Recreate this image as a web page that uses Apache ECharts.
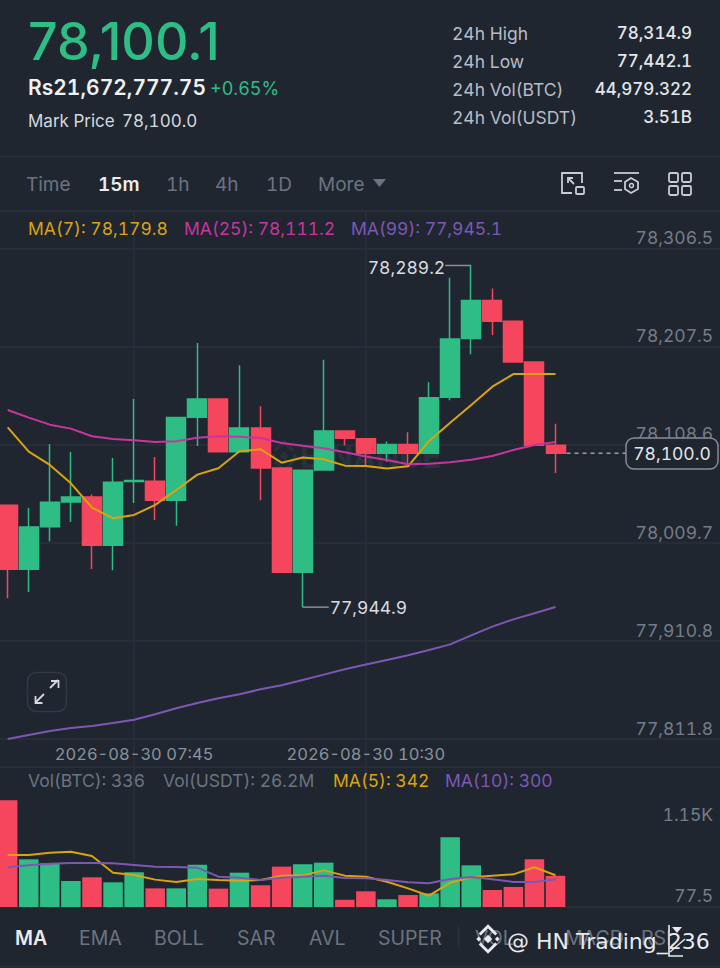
<!DOCTYPE html>
<html><head><meta charset="utf-8">
<style>html,body{margin:0;padding:0;background:#1f2630;overflow:hidden}#c{width:720px;height:968px}
svg text:not([style*="52px"]){font-variant-numeric:tabular-nums !important}</style>
<script src="https://cdn.jsdelivr.net/npm/echarts@6/dist/echarts.min.js"></script>
</head><body><div id="c"></div>
<script>
const categories = ['06:00','06:15','06:30','06:45','07:00','07:15','07:30','07:45','08:00','08:15','08:30','08:45','09:00','09:15','09:30','09:45','10:00','10:15','10:30','10:45','11:00','11:15','11:30','11:45','12:00','12:15','12:30','12:45','13:00','13:15','13:30','13:45','14:00','14:15','14:30','14:45'];
const labelledSlots = [7, 18];
const datePrefix = '2026-08-30 ';
// open, close, low, high
const candles = [
 [78047.5,77983.0,77953.8,78047.5],[77983.0,78025.7,77960.2,78044.8],[78026.0,78050.5,78011.2,78109.0],
 [78050.9,78055.9,78030.7,78101.3],[78055.9,78007.2,77983.4,78058.3],[78007.2,78070.7,77982.0,78095.2],
 [78071.4,78072.4,78049.9,78154.7],[78071.7,78052.6,78032.7,78096.2],[78052.6,78135.9,78027.0,78135.9],
 [78136.2,78154.7,78107.3,78211.1],[78154.7,78101.6,78101.6,78154.7],[78101.6,78125.5,78101.6,78188.6],
 [78125.5,78085.1,78052.6,78147.3],[78085.1,77980.0,77980.0,78085.1],[77980.0,78082.8,77944.9,78082.8],
 [78083.1,78122.4,78083.1,78194.3],[78122.4,78115.0,78107.7,78122.4],[78114.7,78099.9,78086.5,78114.7],
 [78099.9,78108.7,78091.5,78111.7],[78108.7,78099.9,78086.5,78121.1],[78099.9,78156.0,78099.9,78171.5],
 [78156.4,78215.1,78153.3,78276.9],[78215.5,78253.8,78199.7,78289.2],[78253.8,78232.9,78219.2,78265.9],
 [78232.9,78192.0,78192.0,78232.9],[78192.0,78108.0,78108.0,78192.0],[78108.0,78100.1,78080.1,78129.8]
];
const ma7 = [78126.1,78101.6,78088.2,78069.7,78045.2,78034.4,78037.8,78047.9,78063.0,78078.4,78084.8,78101.9,78104.0,78090.5,78095.6,78093.9,78087.5,78087.2,78084.5,78086.8,78112.4,78130.8,78148.6,78167.1,78179.8,78179.8,78179.8];
const ma25 = [78143.6,78135.9,78128.8,78124.8,78117.1,78114.4,78113.0,78111.3,78112.0,78115.7,78117.1,78116.7,78115.4,78110.3,78107.6,78105.0,78100.9,78096.6,78093.2,78088.8,78089.5,78090.9,78093.5,78097.2,78103.3,78108.3,78111.2];
const ma99 = [77812.1,77816.1,77820.1,77823.1,77825.2,77828.2,77831.5,77836.9,77843.0,77848.3,77853.0,77857.1,77862.1,77866.1,77871.5,77876.9,77882.3,77887.0,77891.7,77896.4,77901.7,77907.4,77916.5,77925.3,77932.6,77938.7,77945.1];
const volumes = [1150,514,471,280,320,266,374,201,201,456,198,370,234,435,460,478,77.5,169,83,129,147,751,449,183,216,514,336];
const volMa5 = [560,560,586,596,550,370,345,295,270,302,291,284,291,338,341,395,338,327,273,201,122,262,320,338,352,428,342];
const volMa10 = [428,449,467,474,474,471,453,435,431,424,327,316,291,316,327,338,313,309,291,266,255,302,323,298,269,269,300];
const priceTicks = [77811.8,77910.8,78009.7,78108.6,78207.5,78306.5];
const volTickHigh = [1150], volTickLow = [77.5];
const highPoint = {slot:23, price:78289.2}, lowPoint = {slot:15, price:77944.9}, lastPoint = {slot:27, price:78100.0};

const UP='#2ebd85', DOWN='#f6465d', BG='#1f2630', GRID='#2a313c';
const C7='#dba40e', C25='#c9359f', C99='#7e57b5';
const FONT='Inter, "Noto Sans", sans-serif';
const lead = a => ['-'].concat(a);
const volBars = volumes.map((v,i)=>({value:v,itemStyle:{color:candles[i][1]>=candles[i][0]?UP:DOWN}}));

function t(x,y,text,size,color,o){o=o||{};return {type:'text',z:o.z||50,silent:true,style:{x,y,text,fill:color,
  font:(o.w||400)+' '+size+'px '+(o.f||FONT),textAlign:o.a||'left',textVerticalAlign:'middle',opacity:o.op==null?1:o.op}};}
function ln(x1,y1,x2,y2,color,w,o){o=o||{};return {type:'line',z:o.z||50,silent:true,shape:{x1,y1,x2,y2},style:{stroke:color,lineWidth:w||1,lineDash:o.dash,opacity:o.op==null?1:o.op}};}
function rc(x,y,w,h,r,color,lw,o){o=o||{};return {type:'rect',z:o.z||50,silent:true,shape:{x,y,width:w,height:h,r},style:{stroke:color,lineWidth:lw,fill:o.fill||'none',opacity:o.op==null?1:o.op}};}
function poly(points,fill,o){o=o||{};return {type:'polygon',z:o.z||50,silent:true,shape:{points},style:{fill,opacity:o.op==null?1:o.op}};}
function pl(points,stroke,lw,o){o=o||{};return {type:'polyline',z:o.z||50,silent:true,shape:{points},style:{stroke,lineWidth:lw,fill:'none',opacity:o.op==null?1:o.op}};}
function logo(cx,cy,s,fill,o){const d=(x,y,r)=>poly([[x,y-r],[x+r,y],[x,y+r],[x-r,y]],fill,o);
  return [d(cx,cy,s*.28),d(cx-s*.62,cy,s*.16),d(cx+s*.62,cy,s*.16),
   pl([[cx-s*.55,cy-s*.3],[cx,cy-s*.85],[cx+s*.55,cy-s*.3]],fill,s*.2,o),
   pl([[cx-s*.55,cy+s*.3],[cx,cy+s*.85],[cx+s*.55,cy+s*.3]],fill,s*.2,o)];}

const LBL='#b7bdc6', VAL='#e4e6ea', DIM='#6c7480';
let decor=[
 t(28,41,'78,100.1',52,UP,{w:500}),
 t(28,87,'Rs21,672,777.75',21,'#f0f1f3',{w:600}),
 t(210,88,'+0.65%',18,UP),
 t(28,121,'Mark Price',17,'#d5d8dc'),
 t(122,121,'78,100.0',17,'#d5d8dc'),
 t(452,33,'24h High',17.5,LBL),t(452,61,'24h Low',17.5,LBL),t(452,89,'24h Vol(BTC)',17.5,LBL),t(452,117,'24h Vol(USDT)',17.5,LBL),
 t(692,33,'78,314.9',17,VAL,{a:'right',w:500}),t(692,61,'77,442.1',17,VAL,{a:'right',w:500}),
 t(692,89,'44,979.322',17,VAL,{a:'right',w:500}),t(692,117,'3.51B',17,VAL,{a:'right',w:500}),
 ln(0,156.5,720,156.5,GRID,1.5),
 t(26,184,'Time',19,DIM),t(98,184,'15m',19,'#eaecef',{w:600}),t(166,184,'1h',19,DIM),t(215,184,'4h',19,DIM),t(266,184,'1D',19,DIM),t(318,184,'More',19,DIM),
 poly([[373,179],[386,179],[379.5,187]],DIM),
 ln(0,211,720,211,GRID,1.5),
 t(28,228,'MA(7): 78,179.8',17.5,C7),t(184,228,'MA(25): 78,111.2',17.5,C25),t(351,228,'MA(99): 77,945.1',17.5,C99),
 t(28,780,'Vol(BTC): 336',17.5,DIM),t(163,780,'Vol(USDT): 26.2M',17.5,DIM),t(333,780,'MA(5): 342',17.5,C7),t(445,780,'MA(10): 300',17.5,C99),
 // toolbar icons
 pl([[582,183],[582,173],[562,173],[562,193],[572,193]],'#c8ccd2',1.8),rc(576,187,8,7,1,'#c8ccd2',1.8),
 pl([[574,184],[568,178]],'#c8ccd2',1.8),pl([[568,183],[568,178],[573,178]],'#c8ccd2',1.8),
 ln(614,173,639,173,'#c8ccd2',1.8),ln(614,181,622,181,'#c8ccd2',1.8),ln(614,190,622,190,'#c8ccd2',1.8),
 {type:'polygon',z:50,silent:true,shape:{points:[[631,178],[638,182],[638,189],[631,193],[625,189],[625,182]]},style:{stroke:'#c8ccd2',lineWidth:1.8,fill:'none'}},
 {type:'circle',z:50,silent:true,shape:{cx:631.5,cy:185.5,r:2},style:{stroke:'#c8ccd2',lineWidth:1.5,fill:'none'}},
 rc(669,173,9,9,1.5,'#c8ccd2',1.8),rc(682,173,9,9,1.5,'#c8ccd2',1.8),rc(669,186,9,9,1.5,'#c8ccd2',1.8),rc(682,186,9,9,1.5,'#c8ccd2',1.8),
 // expand button
 rc(27.5,672.5,39,39,9,'#323945',1.5,{fill:BG}),
 ln(36,702,44,694,'#d5d8dc',1.8),pl([[35.5,696],[35.5,703],[42.5,703]],'#d5d8dc',1.8),
 ln(50,688,58,680,'#d5d8dc',1.8),pl([[51,681],[58.5,681],[58.5,688]],'#d5d8dc',1.8),
 // bottom tabs
 t(15,938,'MA',19.5,'#eaecef',{w:600}),t(79,938,'EMA',19.5,DIM),t(154,938,'BOLL',19.5,DIM),t(237,938,'SAR',19.5,DIM),t(309,938,'AVL',19.5,DIM),t(378,938,'SUPER',19.5,DIM),
 ln(458.5,926,458.5,948,GRID,1.5),t(475,938,'VOL',19.5,DIM),t(565,938,'MACD',19.5,DIM),t(641,938,'RSI',19.5,DIM),
 ln(0,966.5,720,966.5,GRID,1.5),
 // chart watermark
 t(300,456,'BINANCE',31,'#2a313c',{w:700,z:1}),
].concat(logo(284,456,17,'#2a313c',{z:1}))
 // image watermark
 .concat(logo(488,939,15,'#e8eaed',{z:60}))
 .concat([
  t(507,941,'@ HN Trading_236',22,'#e8eaed',{z:60,f:'"DejaVu Sans", sans-serif'}),
  pl([[669,925],[669,956],[683,956]],'#e8eaed',1.6,{z:60}),poly([[672,927],[682,927],[677,933]],'#e8eaed',{z:60}),
  ln(670,952,685,939,'#e8eaed',1.4,{z:60}),
 ]);

const chart=echarts.init(document.getElementById('c'),null,{renderer:'svg',width:720,height:968});
const splitAt={show:true,interval:(i)=>labelledSlots.includes(i),lineStyle:{color:GRID,width:1.5}};
const lineS=(name,data,color,x,y,w)=>({name,type:'line',data:lead(data),xAxisIndex:x,yAxisIndex:y,showSymbol:false,symbol:'none',smooth:false,lineStyle:{color,width:w||2},z:5,silent:true,animation:false,connectNulls:false});
chart.setOption({
 animation:false,backgroundColor:BG,
 textStyle:{fontFamily:FONT},
 grid:[{left:-13.37,width:737.45,top:211,height:556,show:false,outerBoundsMode:'none',containLabel:false},
       {left:-13.37,width:737.45,top:767,height:140,show:false,outerBoundsMode:'none',containLabel:false}],
 xAxis:[
  {type:'category',gridIndex:0,data:categories,boundaryGap:false,axisTick:{show:false},
   axisLine:{show:true,lineStyle:{color:GRID,width:1.5}},splitLine:splitAt,
   axisLabel:{inside:true,margin:5,interval:(i)=>labelledSlots.includes(i),formatter:v=>datePrefix+v,color:'#8b929c',fontSize:16.5,fontFamily:FONT}},
  {type:'category',gridIndex:1,data:categories,boundaryGap:false,axisTick:{show:false},
   axisLine:{show:true,lineStyle:{color:GRID,width:1.5}},splitLine:splitAt,axisLabel:{show:false}}
 ],
 yAxis:[
  {type:'value',gridIndex:0,position:'right',min:77783.8,max:78344.1,scale:true,
   axisTick:{show:false,customValues:priceTicks},axisLine:{show:false},
   splitLine:{show:true,lineStyle:{color:GRID,width:1.5}},
   axisLabel:{inside:true,margin:11,verticalAlign:'bottom',lineHeight:21.5,color:'#757c87',fontSize:17.5,fontFamily:FONT,customValues:priceTicks,
     formatter:v=>v.toLocaleString('en-US',{minimumFractionDigits:1,maximumFractionDigits:1})}},
  {type:'value',gridIndex:1,position:'right',min:0,max:1509,axisTick:{show:false,customValues:volTickHigh},axisLine:{show:false},splitLine:{show:false},
   axisLabel:{inside:true,margin:11,verticalAlign:'top',lineHeight:28,color:'#757c87',fontSize:17.5,fontFamily:FONT,customValues:volTickHigh,formatter:()=>'1.15K'}},
  {type:'value',gridIndex:1,position:'right',min:0,max:1509,axisTick:{show:false,customValues:volTickLow},axisLine:{show:false},splitLine:{show:false},
   axisLabel:{inside:true,margin:11,verticalAlign:'bottom',lineHeight:9,color:'#757c87',fontSize:17.5,fontFamily:FONT,customValues:volTickLow,formatter:()=>'77.5'}}
 ],
 series:[
  {name:'BTCUSDT',type:'candlestick',xAxisIndex:0,yAxisIndex:0,data:[['-','-','-','-']].concat(candles),barWidth:19.5,z:3,clip:false,silent:true,
   itemStyle:{color:UP,color0:DOWN,borderColor:UP,borderColor0:DOWN,borderWidth:1.5}},
  lineS('MA(7)',ma7,C7,0,0),lineS('MA(25)',ma25,C25,0,0),lineS('MA(99)',ma99,C99,0,0),
  {name:'Vol',type:'bar',xAxisIndex:1,yAxisIndex:1,data:lead(volBars),barWidth:19.5,z:3,silent:true},
  lineS('MA(5)',volMa5,C7,1,1),lineS('MA(10)',volMa10,C99,1,1)
 ]
});
const px=(s,v)=>chart.convertToPixel({xAxisIndex:0,yAxisIndex:0},[s,v]);
const [hx,hy]=px(highPoint.slot,highPoint.price),[lx,ly]=px(lowPoint.slot,lowPoint.price),[ex,ey]=px(lastPoint.slot,lastPoint.price);
const fmt=v=>v.toLocaleString('en-US',{minimumFractionDigits:1,maximumFractionDigits:1});
const notes=[
 ln(hx-26,hy,hx,hy,'#8a8f97',1.5),t(hx-26,hy+2,fmt(highPoint.price),17.5,'#d9dce0',{a:'right'}),
 ln(lx,ly,lx+26,ly,'#8a8f97',1.5),t(lx+27,ly,fmt(lowPoint.price),17.5,'#d9dce0'),
 ln(ex+11,ey,626,ey,'#9aa1aa',1.5,{dash:[4,4]}),
 rc(626,438,92,31,8,'#868d98',1.5,{fill:BG}),
 t(672,ey,fmt(lastPoint.price),17.5,'#e4e6ea',{a:'center'})
];
chart.setOption({graphic:{elements:decor.concat(notes)}});
</script></body></html>
